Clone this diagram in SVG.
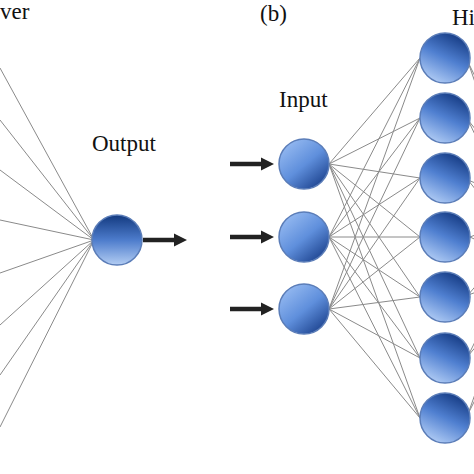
<svg xmlns="http://www.w3.org/2000/svg" width="474" height="474" viewBox="0 0 474 474">
<defs>
<linearGradient id="gOut" x1="0" y1="0" x2="0" y2="1">
<stop offset="0" stop-color="#133a80"/><stop offset="0.5" stop-color="#4d7ccc"/><stop offset="1" stop-color="#b3cdf3"/>
</linearGradient>
<linearGradient id="gIn" x1="0.15" y1="0.1" x2="0.85" y2="0.95">
<stop offset="0" stop-color="#93b8f0"/><stop offset="0.5" stop-color="#5f8fdc"/><stop offset="1" stop-color="#1c428e"/>
</linearGradient>
<linearGradient id="gHid" x1="0.75" y1="0.05" x2="0.3" y2="0.95">
<stop offset="0" stop-color="#173d86"/><stop offset="0.5" stop-color="#4f7fd0"/><stop offset="1" stop-color="#a9c6f2"/>
</linearGradient>
<marker id="ah" viewBox="0 0 10 10" refX="1" refY="5" markerWidth="3" markerHeight="3.6" orient="auto" markerUnits="strokeWidth">
<path d="M0,0 L10,5 L0,10 z" fill="#222"/>
</marker>
</defs>
<style>
.lbl{font-family:"Liberation Serif","Times New Roman",serif;font-size:23px;fill:#111}
.w{stroke:#8a8a8a;stroke-width:1;fill:none}
.arr{stroke:#222;stroke-width:4.5;fill:none;marker-end:url(#ah)}
.nd{stroke:#5b7db8;stroke-width:1.5}
</style>
<rect width="474" height="474" fill="#fff"/>
<g id="labels">
<text class="lbl" x="0" y="19">ver</text>
<text class="lbl" x="92" y="151">Output</text>
<text class="lbl" x="260" y="21">(b)</text>
<text class="lbl" x="279" y="107">Input</text>
<text class="lbl" x="452" y="25">Hi</text>
</g>
<g id="connectors">
<path class="w" d="M0,68 L94,240 M0,120 L94,240 M0,170 L94,240 M0,220 L94,240 M0,273 L94,240 M0,325 L94,240 M0,375 L94,240 M0,427 L94,240"/>
<path class="w" d="M329,164 L420,58 M329,164 L420,118 M329,164 L420,178 M329,164 L420,237 M329,164 L420,297 M329,164 L420,358 M329,164 L420,418"/>
<path class="w" d="M329,237 L420,58 M329,237 L420,118 M329,237 L420,178 M329,237 L420,237 M329,237 L420,297 M329,237 L420,358 M329,237 L420,418"/>
<path class="w" d="M329,309 L420,58 M329,309 L420,118 M329,309 L420,178 M329,309 L420,237 M329,309 L420,297 M329,309 L420,358 M329,309 L420,418"/>
<path class="w" d="M468,62 L540,210 M468,62 L540,270 M468,120 L540,210 M468,120 L540,270 M468,180 L540,210 M468,180 L540,270 M470,237 L540,210 M470,237 L540,270 M468,295 L540,210 M468,295 L540,270 M468,356 L540,210 M468,356 L540,270 M468,414 L540,210 M468,414 L540,270"/>
<path class="arr" d="M143,240 L175,240"/>
<path class="arr" d="M230,164 L262,164"/>
<path class="arr" d="M230,237 L262,237"/>
<path class="arr" d="M230,309 L262,309"/>
</g>
<g id="output"><circle class="nd" cx="117" cy="240" r="25" fill="url(#gOut)"/></g>
<g id="in1"><circle class="nd" cx="304" cy="164" r="25" fill="url(#gIn)"/></g>
<g id="in2"><circle class="nd" cx="304" cy="237" r="25" fill="url(#gIn)"/></g>
<g id="in3"><circle class="nd" cx="304" cy="309" r="25" fill="url(#gIn)"/></g>
<g id="h1"><circle class="nd" cx="445" cy="58" r="25" fill="url(#gHid)"/></g>
<g id="h2"><circle class="nd" cx="445" cy="118" r="25" fill="url(#gHid)"/></g>
<g id="h3"><circle class="nd" cx="445" cy="178" r="25" fill="url(#gHid)"/></g>
<g id="h4"><circle class="nd" cx="445" cy="237" r="25" fill="url(#gHid)"/></g>
<g id="h5"><circle class="nd" cx="445" cy="297" r="25" fill="url(#gHid)"/></g>
<g id="h6"><circle class="nd" cx="445" cy="358" r="25" fill="url(#gHid)"/></g>
<g id="h7"><circle class="nd" cx="445" cy="418" r="25" fill="url(#gHid)"/></g>
</svg>
